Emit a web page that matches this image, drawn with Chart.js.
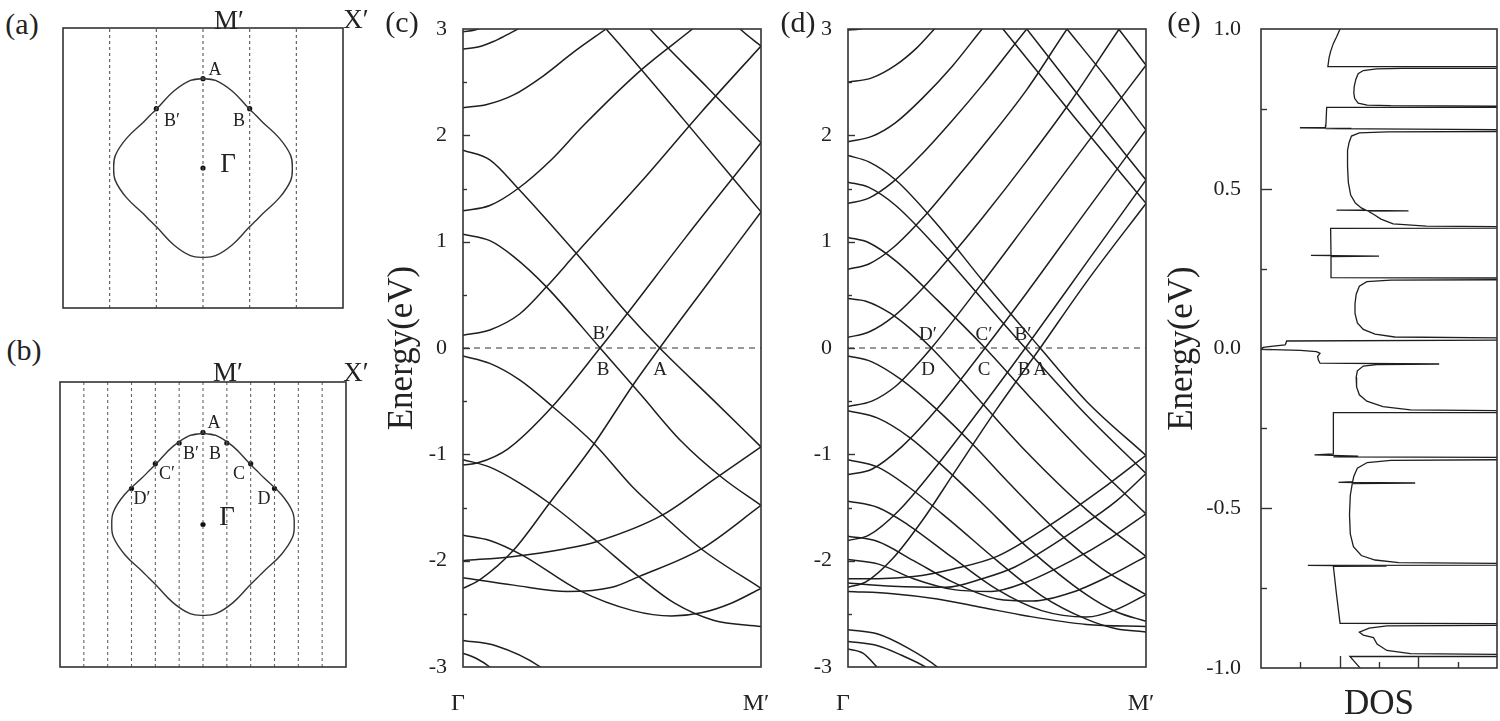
<!DOCTYPE html>
<html><head><meta charset="utf-8">
<script src="https://cdn.jsdelivr.net/npm/chart.js@4.4.1/dist/chart.umd.min.js"></script>
<style>
body{margin:0;background:#fff;width:1500px;height:721px;position:relative;overflow:hidden;font-family:'Liberation Serif','Times New Roman',serif;color:#222}
canvas{position:absolute}
.t{position:absolute;transform:translate(-50%,-50%);white-space:nowrap;line-height:1}
</style></head><body>
<canvas id="ca" width="290" height="290" style="left:58px;top:23px"></canvas>
<canvas id="cb" width="296" height="295" style="left:55px;top:377px"></canvas>
<canvas id="cc" width="397" height="704" style="left:378px;top:17px"></canvas>
<canvas id="cd" width="372" height="704" style="left:788px;top:17px"></canvas>
<canvas id="ce" width="342" height="704" style="left:1158px;top:17px"></canvas>

<div class="t" style="left:22px;top:24px;font-size:30px">(a)</div>
<div class="t" style="left:229px;top:20px;font-size:27px">M′</div>
<div class="t" style="left:356px;top:19px;font-size:27px">X′</div>
<div class="t" style="left:215px;top:69px;font-size:18px">A</div>
<div class="t" style="left:172px;top:120px;font-size:18px">B′</div>
<div class="t" style="left:239px;top:120px;font-size:18px">B</div>
<div class="t" style="left:228px;top:163px;font-size:27px">Γ</div>

<div class="t" style="left:24px;top:350px;font-size:30px">(b)</div>
<div class="t" style="left:228px;top:372px;font-size:27px">M′</div>
<div class="t" style="left:356px;top:372px;font-size:27px">X′</div>
<div class="t" style="left:214px;top:422px;font-size:18px">A</div>
<div class="t" style="left:191px;top:453px;font-size:18px">B′</div>
<div class="t" style="left:215px;top:453px;font-size:18px">B</div>
<div class="t" style="left:167px;top:473px;font-size:18px">C′</div>
<div class="t" style="left:239px;top:473px;font-size:18px">C</div>
<div class="t" style="left:142px;top:498px;font-size:18px">D′</div>
<div class="t" style="left:264px;top:498px;font-size:18px">D</div>
<div class="t" style="left:227px;top:516px;font-size:27px">Γ</div>

<div class="t" style="left:402px;top:22px;font-size:30px">(c)</div>
<div class="t" style="left:601px;top:332px;font-size:19px">B′</div>
<div class="t" style="left:603px;top:368px;font-size:19px">B</div>
<div class="t" style="left:660px;top:368px;font-size:19px">A</div>

<div class="t" style="left:798px;top:22px;font-size:30px">(d)</div>
<div class="t" style="left:928px;top:333px;font-size:19px">D′</div>
<div class="t" style="left:984px;top:333px;font-size:19px">C′</div>
<div class="t" style="left:1023px;top:333px;font-size:19px">B′</div>
<div class="t" style="left:928px;top:368px;font-size:19px">D</div>
<div class="t" style="left:984px;top:368px;font-size:19px">C</div>
<div class="t" style="left:1024px;top:368px;font-size:19px">B</div>
<div class="t" style="left:1040px;top:368px;font-size:19px">A</div>

<div class="t" style="left:1184px;top:22px;font-size:30px">(e)</div>

<script>
// ---------------- data ----------------
// (a),(b): Fermi contour (kx, ky) in units of half zone, cut lines
const fermiContour = [[-0.09,0.626],[0,0.638],[0.09,0.626],[0.21,0.548],[0.329,0.424],[0.377,0.377],[0.424,0.329],[0.548,0.21],[0.626,0.09],[0.638,0],
 [0.626,-0.09],[0.548,-0.21],[0.424,-0.329],[0.377,-0.377],[0.329,-0.424],[0.21,-0.548],[0.09,-0.626],[0,-0.638],
 [-0.09,-0.626],[-0.21,-0.548],[-0.329,-0.424],[-0.377,-0.377],[-0.424,-0.329],[-0.548,-0.21],[-0.626,-0.09],[-0.638,0],
 [-0.626,0.09],[-0.548,0.21],[-0.424,0.329],[-0.377,0.377],[-0.329,0.424],[-0.21,0.548],[-0.09,0.626],[0,0.638],[0.09,0.626]];
const cutsA = [-2/3,-1/3,0,1/3,2/3];
const cutsB = [-5/6,-4/6,-3/6,-2/6,-1/6,0,1/6,2/6,3/6,4/6,5/6];
const dotsA = [[0,0.638],[-1/3,0.424],[1/3,0.424],[0,0]];
const dotsB = [[0,0.646],[-1/6,0.572],[1/6,0.572],[-2/6,0.427],[2/6,0.427],[-3/6,0.252],[3/6,0.252],[0,0]];

// (c) bands: [k (Γ=0, M′=1), E (eV)]
const cBand01 = [[0,2.975],[0.04,2.99],[0.08,3.03]];
const cBand02 = [[0,2.81],[0.05,2.83],[0.1,2.88],[0.15,2.95],[0.19,3.01],[0.21,3.05]];
const cBand03 = [[0,2.26],[0.08,2.29],[0.17,2.38],[0.27,2.56],[0.37,2.78],[0.48,3.0],[0.52,3.08]];
const cBand04 = [[0,1.86],[0.09,1.77],[0.185,1.5],[0.38,0.89],[0.55,0.33],[0.66,0],[0.84,-0.49],[1.0,-0.93]];
const cBand05 = [[0,1.29],[0.09,1.34],[0.185,1.5],[0.3,1.78],[0.4,2.08],[0.6,2.62],[0.77,3.0],[0.8,3.07]];
const cBand06 = [[0,1.07],[0.09,1.01],[0.17,0.86],[0.28,0.575],[0.46,0],[0.6,-0.45],[0.73,-0.87],[0.87,-1.22],[1.0,-1.48]];
const cBand07 = [[0,0.12],[0.09,0.17],[0.19,0.32],[0.28,0.575],[0.38,0.89],[0.6,1.57],[0.8,2.22],[1.0,2.84]];
const cBand08 = [[0,-0.075],[0.09,-0.145],[0.19,-0.3],[0.3,-0.55],[0.44,-0.9],[0.57,-1.31],[0.67,-1.57],[0.8,-1.89],[1.0,-2.26]];
const cBand09 = [[0,-1.1],[0.05,-1.08],[0.15,-0.95],[0.3,-0.55],[0.46,0],[0.55,0.32],[0.75,1.05],[1.0,1.93]];
const cBand10 = [[0,-2.26],[0.056,-2.18],[0.17,-1.9],[0.29,-1.46],[0.44,-0.9],[0.57,-0.35],[0.66,0],[0.83,0.64],[1.0,1.28]];
const cBand11 = [[0,-1.05],[0.09,-1.12],[0.19,-1.27],[0.29,-1.46],[0.45,-1.82],[0.59,-2.15],[0.71,-2.4],[0.84,-2.56],[1.0,-2.62]];
const cBand12 = [[0,-2.0],[0.17,-1.96],[0.34,-1.89],[0.45,-1.82],[0.67,-1.57],[0.84,-1.24],[1.0,-0.93]];
const cBand13 = [[0,-2.16],[0.17,-2.23],[0.35,-2.29],[0.5,-2.25],[0.59,-2.15],[0.8,-1.89],[1.0,-1.48]];
const cBand14 = [[0,-1.76],[0.09,-1.81],[0.2,-1.95],[0.39,-2.28],[0.57,-2.47],[0.7,-2.52],[0.8,-2.49],[0.9,-2.4],[1.0,-2.26]];
const cBand15 = [[0,-2.75],[0.11,-2.8],[0.26,-3.0],[0.3,-3.1]];
const cBand16 = [[0,-2.87],[0.045,-2.92],[0.09,-3.0],[0.12,-3.08]];
const cTop1 = [[0.46,3.06],[0.48,3.0],[0.74,2.15],[1.0,1.28]];
const cTop2 = [[0.61,3.06],[0.628,3.0],[0.82,2.45],[1.0,1.93]];
const cTop3 = [[0.91,3.06],[0.93,3.0],[1.0,2.84]];

// (d) bands
const dUp1 = [[0,2.99],[0.04,3.0],[0.08,3.04]];
const dUp2 = [[0,2.5],[0.08,2.54],[0.16,2.66],[0.23,2.82],[0.29,3.0],[0.32,3.09]];
const dUp3 = [[0,1.94],[0.08,1.99],[0.16,2.12],[0.25,2.35],[0.35,2.65],[0.45,3.0],[0.48,3.1]];
const dUp4 = [[0,1.36],[0.07,1.41],[0.15,1.56],[0.25,1.83],[0.35,2.14],[0.45,2.47],[0.6,3.0],[0.63,3.1]];
const dUp5 = [[0,0.74],[0.07,0.79],[0.15,0.94],[0.25,1.22],[0.35,1.55],[0.45,1.89],[0.6,2.43],[0.735,3.0],[0.76,3.1]];
const dUp6 = [[0,0.10],[0.07,0.15],[0.15,0.29],[0.25,0.56],[0.35,0.88],[0.45,1.22],[0.6,1.76],[0.75,2.33],[0.91,3.0],[0.94,3.12]];
const dUpD = [[0,-0.55],[0.08,-0.5],[0.16,-0.36],[0.22,-0.19],[0.28,0],[0.45,0.61],[0.6,1.17],[0.8,1.92],[1.0,2.66]];
const dUpC = [[0,-1.19],[0.08,-1.14],[0.18,-0.93],[0.3,-0.57],[0.46,0],[0.6,0.52],[0.8,1.29],[1.0,2.05]];
const dUpB = [[0,-1.81],[0.07,-1.76],[0.17,-1.53],[0.3,-1.1],[0.45,-0.55],[0.595,0],[0.8,0.8],[1.0,1.58]];
const dUpA = [[0,-2.25],[0.06,-2.2],[0.15,-1.98],[0.25,-1.62],[0.35,-1.2],[0.5,-0.57],[0.645,0],[0.8,0.62],[1.0,1.36]];
const dTop1 = [[0.5,3.07],[0.52,3.0],[0.76,2.17],[1.0,1.36]];
const dTop2 = [[0.58,3.07],[0.6,3.0],[0.8,2.28],[1.0,1.58]];
const dTop3 = [[0.715,3.07],[0.735,3.0],[0.87,2.53],[1.0,2.05]];
const dTop4 = [[0.89,3.06],[0.908,3.0],[1.0,2.66]];
const dDnD = [[0,0.465],[0.06,0.44],[0.14,0.33],[0.21,0.18],[0.28,0],[0.45,-0.52],[0.6,-0.98],[0.8,-1.52],[1.0,-1.96]];
const dDnC = [[0,1.04],[0.07,0.99],[0.16,0.82],[0.3,0.45],[0.46,0],[0.6,-0.43],[0.8,-1.02],[1.0,-1.56]];
const dDnB = [[0,1.56],[0.07,1.51],[0.16,1.34],[0.3,0.94],[0.45,0.46],[0.595,0],[0.8,-0.63],[1.0,-1.18]];
const dDnA = [[0,1.81],[0.07,1.75],[0.16,1.58],[0.3,1.16],[0.45,0.64],[0.645,0],[0.8,-0.5],[1.0,-1.01]];
const dLo1 = [[0,-0.075],[0.08,-0.13],[0.18,-0.3],[0.295,-0.57],[0.42,-0.91],[0.53,-1.24],[0.7,-1.72],[0.85,-2.07],[1.0,-2.32]];
const dLo2 = [[0,-0.59],[0.1,-0.66],[0.206,-0.84],[0.306,-1.08],[0.45,-1.46],[0.6,-1.87],[0.8,-2.32],[0.9,-2.48],[1.0,-2.57]];
const dLo3 = [[0,-1.05],[0.1,-1.12],[0.2,-1.3],[0.35,-1.64],[0.5,-2.0],[0.65,-2.33],[0.8,-2.55],[0.9,-2.64],[1.0,-2.67]];
const dLo4 = [[0,-1.44],[0.1,-1.5],[0.2,-1.66],[0.35,-1.97],[0.5,-2.27],[0.65,-2.47],[0.8,-2.53],[0.9,-2.46],[1.0,-2.32]];
const dLo5 = [[0,-1.77],[0.1,-1.82],[0.22,-2.0],[0.35,-2.2],[0.5,-2.36],[0.62,-2.38],[0.75,-2.3],[0.88,-2.14],[1.0,-1.96]];
const dLo6 = [[0,-1.99],[0.1,-2.03],[0.22,-2.17],[0.35,-2.27],[0.48,-2.29],[0.6,-2.2],[0.75,-2.0],[0.88,-1.79],[1.0,-1.56]];
const dLo7 = [[0,-2.29],[0.15,-2.31],[0.3,-2.36],[0.45,-2.44],[0.6,-2.52],[0.8,-2.6],[1.0,-2.62]];
const dR1 = [[0,-2.17],[0.1,-2.17],[0.22,-2.15],[0.35,-2.08],[0.5,-1.96],[0.67,-1.68],[0.85,-1.33],[1.0,-1.01]];
const dR2 = [[0,-2.21],[0.15,-2.24],[0.33,-2.25],[0.45,-2.17],[0.56,-2.06],[0.78,-1.68],[0.9,-1.44],[1.0,-1.18]];
const dBot1 = [[0,-2.65],[0.1,-2.69],[0.2,-2.82],[0.3,-3.0],[0.33,-3.08]];
const dBot2 = [[0,-2.76],[0.1,-2.8],[0.18,-2.89],[0.26,-3.0],[0.29,-3.06]];
const dBot3 = [[0,-2.83],[0.05,-2.87],[0.097,-3.0],[0.12,-3.07]];

// (e) DOS: [DOS (arb.), E (eV)], read from top to bottom
const dosTop   = [[2.05,1.02],[2.01,1.0],[1.92,0.975],[1.84,0.955],[1.77,0.93],[1.73,0.91],[1.70,0.882],[8,0.882],[8,0.877],[3.6,0.8765],[2.94,0.875],[2.6,0.870],[2.47,0.86],[2.41,0.842],[2.37,0.82],[2.36,0.80],[2.38,0.783],[2.47,0.768],[2.7,0.762],[3.3,0.760],[8,0.758]];
const dosGap1  = [[8,0.755],[1.67,0.755],[1.65,0.70],[1.64,0.692],[0.99,0.691],[1.64,0.690],[2.3,0.6885],[1.64,0.688],[8,0.684],[8,0.680]];
const dosBand2 = [[3.2,0.678],[2.5,0.675],[2.3,0.665],[2.24,0.645],[2.2,0.62],[2.2,0.57],[2.22,0.52],[2.28,0.48],[2.4,0.455],[2.55,0.44],[2.65,0.434],[1.92,0.433],[3.75,0.431],[2.72,0.43],[2.86,0.42],[3.05,0.405],[3.36,0.39],[4.2,0.383],[8,0.380]];
const dosGap2  = [[8,0.377],[1.77,0.376],[1.78,0.292],[1.27,0.2915],[3.0,0.289],[1.78,0.288],[1.78,0.222],[8,0.220]];
const dosBand3 = [[8,0.216],[3.3,0.214],[2.69,0.209],[2.5,0.195],[2.42,0.17],[2.39,0.14],[2.39,0.11],[2.45,0.08],[2.6,0.06],[2.9,0.045],[3.4,0.036],[8,0.031]];
const dosZero  = [[8,0.027],[0.65,0.0235],[0.63,0.015],[0.61,0.011],[0.2,0.006],[0.06,0.0036],[0.0,0.0005],[0.06,-0.0026],[1.0,-0.006],[1.41,-0.0099],[1.50,-0.015],[1.44,-0.025],[1.46,-0.036],[1.50,-0.046],[4.53,-0.0485]];
const dosBand4 = [[3.0,-0.05],[2.6,-0.055],[2.45,-0.07],[2.42,-0.09],[2.43,-0.12],[2.5,-0.145],[2.69,-0.165],[3.1,-0.182],[3.8,-0.192],[8,-0.197]];
const dosGap3  = [[8,-0.201],[1.84,-0.201],[1.84,-0.33],[1.36,-0.333],[2.47,-0.337],[1.84,-0.339],[8,-0.342]];
const dosBand5 = [[8,-0.347],[3.3,-0.350],[2.7,-0.357],[2.45,-0.375],[2.36,-0.40],[2.33,-0.417],[1.97,-0.419],[3.92,-0.421],[2.32,-0.423],[2.27,-0.46],[2.25,-0.52],[2.27,-0.58],[2.35,-0.62],[2.55,-0.648],[2.9,-0.662],[3.5,-0.670],[8,-0.675]];
const dosGap4  = [[8,-0.678],[1.19,-0.679],[3.19,-0.681],[1.84,-0.682],[1.92,-0.77],[2.01,-0.86],[8,-0.862]];
const dosBand6 = [[8,-0.866],[3.2,-0.868],[2.75,-0.875],[2.5,-0.888],[2.6,-0.897],[2.86,-0.905],[2.95,-0.925],[3.2,-0.945],[3.8,-0.955],[8,-0.960]];
const dosBot   = [[8,-0.964],[2.26,-0.964],[2.52,-1.0],[2.6,-1.02]];

// tick positions
const bandTickLabels = ['Γ','M′'];
const bandMajor = [-2,-1,0,1,2];
const bandMinor = [-2.5,-1.5,-0.5,0.5,1.5,2.5];
const dosYMajor = [-0.5,0,0.5];
const dosYMinor = [-0.75,-0.25,0.25,0.75];
const dosXMajor = [2,4];
const dosXMinor = [1,3,5];

// ---------------- helpers ----------------
const SERIF = "'Liberation Serif','Times New Roman',serif";
Chart.defaults.font.family = SERIF;
Chart.defaults.color = '#222';
const INK = '#1e1e1e';

function pts(a){ return a.map(p => ({x:p[0], y:p[1]})); }
function lineDs(a, extra){
  return Object.assign({data: pts(a), showLine:true, borderColor:INK, borderWidth:1.5,
    pointRadius:0, fill:false, cubicInterpolationMode:'monotone'}, extra||{});
}
function fixX(h){ return s => { s.height = h; s.paddingLeft = 0; s.paddingRight = 0; }; }
function fixY(w){ return s => { s.width = w; s.paddingTop = 0; s.paddingBottom = 0; }; }
function framePlugin(yTicks, xTicks){
  return {id:'frame', afterDatasetsDraw(chart){
    const {ctx, chartArea:a} = chart;
    ctx.save(); ctx.strokeStyle='#333'; ctx.lineWidth=1.6;
    ctx.strokeRect(a.left, a.top, a.right-a.left, a.bottom-a.top);
    ctx.lineWidth=1.4;
    (yTicks||[]).forEach(([v,len]) => { const y = Math.round(chart.scales.y.getPixelForValue(v))+0.5;
      ctx.beginPath(); ctx.moveTo(a.left,y); ctx.lineTo(a.left+len,y); ctx.stroke(); });
    (xTicks||[]).forEach(([v,len]) => { const x = Math.round(chart.scales.x.getPixelForValue(v))+0.5;
      ctx.beginPath(); ctx.moveTo(x,a.bottom); ctx.lineTo(x,a.bottom-len); ctx.stroke(); });
    ctx.restore();
  }};
}
const baseOpts = {responsive:false, animation:false, events:[],
  plugins:{legend:{display:false}, tooltip:{enabled:false}}};

// ---------------- (a), (b) ----------------
function fermiChart(id, cuts, dots, cutColor){
  const ds = cuts.map(k => ({data: pts([[k,-1],[k,1]]), showLine:true, borderColor:cutColor, borderWidth:1.1,
     borderDash:[3,3], pointRadius:0}));
  ds.push({data: pts(fermiContour), showLine:true, borderColor:'#333', borderWidth:1.4, pointRadius:0, tension:0.4});
  ds.push({data: pts(dots), showLine:false, pointRadius:2.6, pointBackgroundColor:'#111', pointBorderWidth:0});
  new Chart(document.getElementById(id), {type:'scatter', data:{datasets:ds},
    options: Object.assign({}, baseOpts, {layout:{padding:5},
      scales:{x:{type:'linear',min:-1,max:1,display:false}, y:{type:'linear',min:-1,max:1,display:false}}}),
    plugins:[framePlugin([],[])]});
}
fermiChart('ca', cutsA, dotsA, '#555');
fermiChart('cb', cutsB, dotsB, '#666');

// ---------------- (c), (d) ----------------
function bandChart(id, bands, yAxisW, withTitle){
  const ds = bands.map(b => lineDs(b));
  ds.push({data: pts([[0,0],[1,0]]), showLine:true, borderColor:'#333', borderWidth:1.2, borderDash:[6,5], pointRadius:0});
  const yTicks = bandMajor.map(v => [v,7]).concat(bandMinor.map(v => [v,4]));
  new Chart(document.getElementById(id), {type:'scatter', data:{datasets:ds},
    options: Object.assign({}, baseOpts, {
      layout:{padding:{top:12,right:14,left:0,bottom:0}},
      scales:{
        x:{type:'linear', min:0, max:1, grid:{display:false}, border:{display:false},
           afterBuildTicks: s => { s.ticks = [{value:0},{value:1}]; },
           afterFit: fixX(54),
           ticks:{padding:14, labelOffset:-5, font:{size:24}, color:'#222', maxRotation:0, autoSkip:false,
             callback: v => v === 0 ? bandTickLabels[0] : bandTickLabels[1]}},
        y:{type:'linear', min:-3, max:3, grid:{display:false}, border:{display:false},
           afterFit: fixY(yAxisW),
           title:{display:withTitle, text:'Energy(eV)', font:{size:35}, color:'#222', padding:{top:4,bottom:0}},
           ticks:{stepSize:1, padding:8, font:{size:22}, color:'#222', autoSkip:false, callback: v => String(v)}}
      }}),
    plugins:[framePlugin(yTicks, [])]});
}
bandChart('cc', [cBand01,cBand02,cBand03,cBand04,cBand05,cBand06,cBand07,cBand08,cBand09,cBand10,cBand11,cBand12,cBand13,cBand14,cBand15,cBand16,cTop1,cTop2,cTop3], 85, true);
bandChart('cd', [dUp1,dUp2,dUp3,dUp4,dUp5,dUp6,dUpD,dUpC,dUpB,dUpA,dTop1,dTop2,dTop3,dTop4,dDnD,dDnC,dDnB,dDnA,dLo1,dLo2,dLo3,dLo4,dLo5,dLo6,dLo7,dR1,dR2,dBot1,dBot2,dBot3], 60, false);

// ---------------- (e) ----------------
(function(){
  const dos = [].concat(dosTop,dosGap1,dosBand2,dosGap2,dosBand3,dosZero,dosBand4,dosGap3,dosBand5,dosGap4,dosBand6,dosBot);
  const yTicks = dosYMajor.map(v => [v,11]).concat(dosYMinor.map(v => [v,6]));
  const xTicks = dosXMajor.map(v => [v,12]).concat(dosXMinor.map(v => [v,6]));
  new Chart(document.getElementById('ce'), {type:'scatter',
    data:{datasets:[{data:pts(dos), showLine:true, borderColor:INK, borderWidth:1.3, pointRadius:0, tension:0}]},
    options: Object.assign({}, baseOpts, {
      layout:{padding:{top:12,right:3,left:0,bottom:0}},
      scales:{
        x:{type:'linear', min:0, max:6, grid:{display:false}, border:{display:false},
           afterFit: fixX(53),
           ticks:{display:false},
           title:{display:true, text:'DOS', font:{size:35, lineHeight:0.9}, color:'#222', padding:{top:0,bottom:0}}},
        y:{type:'linear', min:-1, max:1, grid:{display:false}, border:{display:false},
           afterFit: fixY(103),
           title:{display:true, text:'Energy(eV)', font:{size:35}, color:'#222', padding:{top:4,bottom:0}},
           ticks:{stepSize:0.5, padding:12, font:{size:22}, color:'#222', autoSkip:false, callback: v => v.toFixed(1)}}
      }}),
    plugins:[framePlugin(yTicks, xTicks)]});
})();
</script>
</body></html>
